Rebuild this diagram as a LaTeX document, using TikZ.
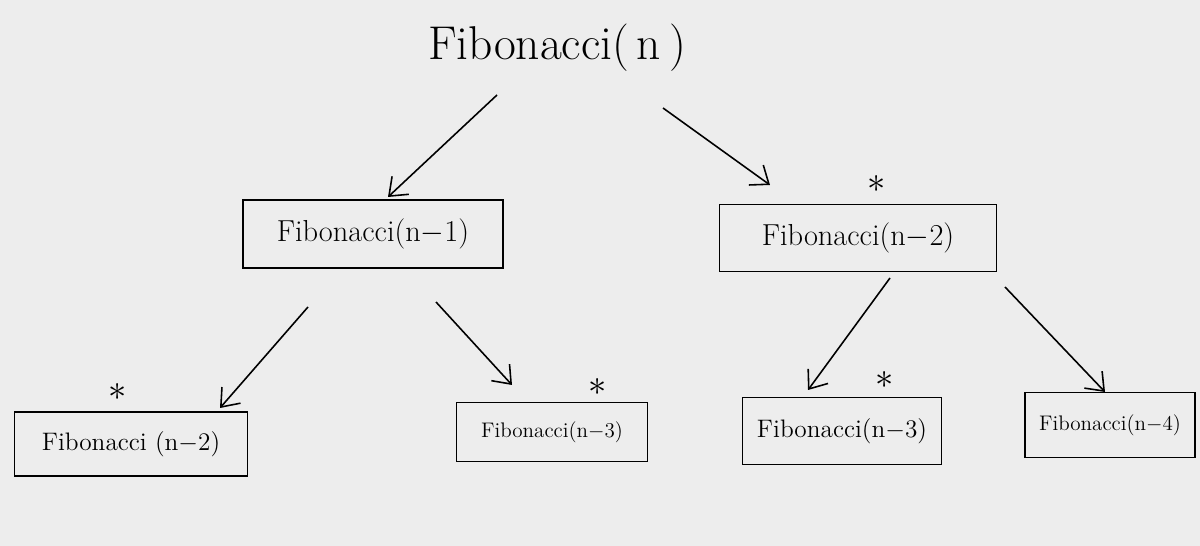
\documentclass[tikz,border=0pt]{standalone}
\usetikzlibrary{arrows.meta}
\begin{document}
\begin{tikzpicture}[x=0.02cm,y=-0.02cm,
  box/.style={draw,line width=0.8pt,minimum height=#1*0.02cm,inner sep=0pt},
  arr/.style={-{Straight Barb[length=9pt,width=14pt]},line width=0.9pt},
  star/.style={font=\huge}]
\fill[gray!14] (0,0) rectangle (1200,546);
\node[font=\fontsize{27}{32}\selectfont] (root) at (557,48) {Fibonacci(\,n\,)};
\node[box=68,minimum width=260*0.02cm,font=\LARGE] (b1) at (373,234) {Fibonacci(n$-$1)};
\node[box=67,minimum width=277*0.02cm,font=\LARGE] (b2) at (858,238) {Fibonacci(n$-$2)};
\node[box=64,minimum width=233*0.02cm,font=\Large] (l1) at (131,444) {Fibonacci (n$-$2)};
\node[box=59,minimum width=191*0.02cm,font=\large] (l2) at (552,432) {Fibonacci(n$-$3)};
\node[box=67,minimum width=199*0.02cm,font=\Large] (l3) at (842,431) {Fibonacci(n$-$3)};
\node[box=65,minimum width=170*0.02cm,font=\large] (l4) at (1110,425) {Fibonacci(n$-$4)};
\coordinate (r1) at (497,95);  \coordinate (e1) at (388,197);
\coordinate (r2) at (663,108); \coordinate (e2) at (770,185);
\coordinate (p1) at (308,307); \coordinate (f1) at (220,408);
\coordinate (p2) at (436,302); \coordinate (f2) at (512,385);
\coordinate (q1) at (890,278); \coordinate (g1) at (808,390);
\coordinate (q2) at (1005,287);\coordinate (g2) at (1105,392);
\draw[arr] (r1) -- (e1);
\draw[arr] (r2) -- (e2);
\draw[arr] (p1) -- (f1);
\draw[arr] (p2) -- (f2);
\draw[arr] (q1) -- (g1);
\draw[arr] (q2) -- (g2);
\node[star] (s1) at (877,184) {$*$};
\node[star] (s2) at (118,392) {$*$};
\node[star] (s3) at (598,387) {$*$};
\node[star] (s4) at (885,380) {$*$};
\end{tikzpicture}
\end{document}
